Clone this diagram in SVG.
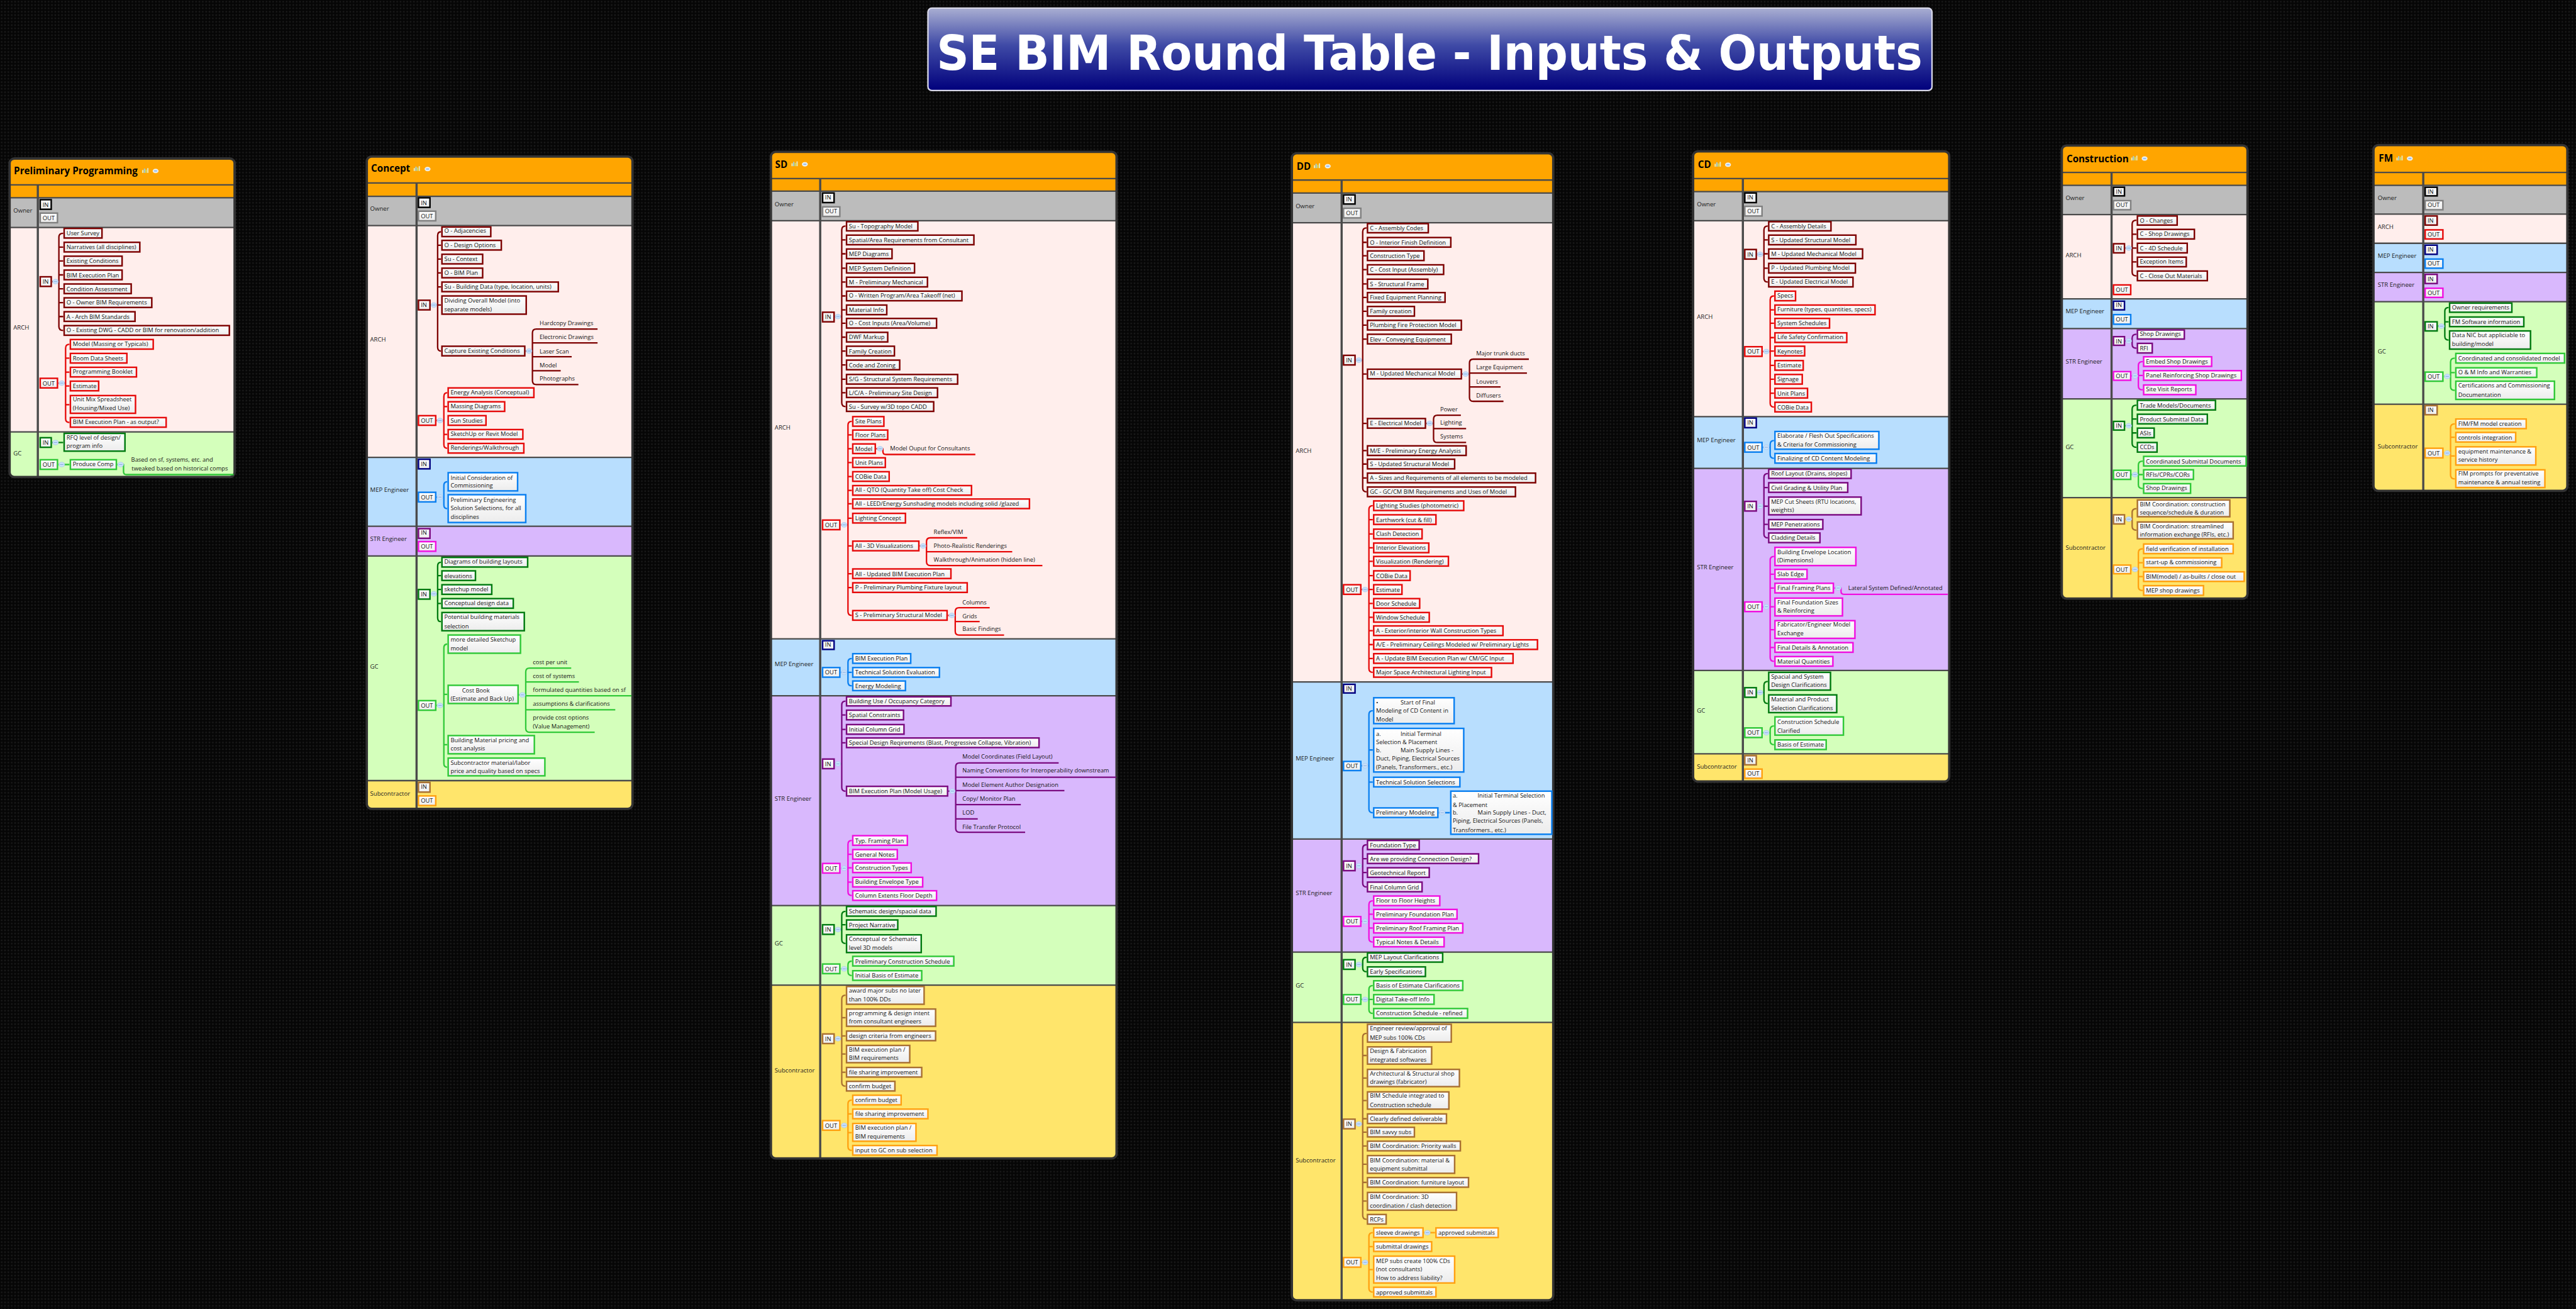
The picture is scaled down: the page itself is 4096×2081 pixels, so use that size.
<svg xmlns="http://www.w3.org/2000/svg" width="4096" height="2081" viewBox="0 0 4096 2081">
<style>
text{font-family:"Open Sans","Noto Sans",sans-serif;font-size:12.3px;fill:#141414;stroke:none;dominant-baseline:central}
text.h{font-size:20px;font-weight:700;fill:#000;dominant-baseline:auto}
text.l{font-size:12.6px;fill:#222}
#nodes rect{fill:url(#nf);stroke-width:3.2}
#connectors path{fill:none;stroke-width:3;stroke-linejoin:round}
.oi{stroke:#000}.oo{stroke:#808080}
.ai{stroke:#7d0000}.ao{stroke:#e60a0a}
.mi{stroke:#000080}.mo{stroke:#0a7ff0}
.si{stroke:#7a0a80}.so{stroke:#f010e0}
.gi{stroke:#007a10}.go{stroke:#30c838}
.ci{stroke:#a87032}.co{stroke:#ffa010}
.r0{fill:#ffa500}.r1{fill:#bcbcbc}.r2{fill:#ffeeec}.r3{fill:#b8defe}.r4{fill:#d9b8fd}.r5{fill:#d4ffbb}.r6{fill:#ffe56b}
.dv{stroke:#4a4a4a;stroke-width:3;fill:none}
.sp{stroke:#4a4a4a;stroke-width:4.5;fill:none}
.ol{fill:none;stroke:#333;stroke-width:5}
</style>
<defs>
<linearGradient id="nf" x1="0" y1="0" x2="0" y2="1"><stop offset="0" stop-color="#fff"/><stop offset="1" stop-color="#ececec"/></linearGradient>
<linearGradient id="tf" x1="0" y1="0" x2="0" y2="1"><stop offset="0" stop-color="#a9aed2"/><stop offset="0.45" stop-color="#3f4aa6"/><stop offset="1" stop-color="#00007c"/></linearGradient>
<pattern id="dots" width="7" height="7" patternUnits="userSpaceOnUse"><rect width="7" height="7" fill="#060606"/><rect x="2" y="2" width="3" height="3" fill="#1c1c1c"/></pattern>
<g id="b"><ellipse rx="6" ry="5" fill="#c9e0fa" stroke="#a9c9ee" stroke-width="1"/><path d="M-3.5 0H3.5" stroke="#6f9fd8" stroke-width="1"/></g>
<g id="hb"><ellipse rx="5.5" ry="4" fill="#d8eafc" stroke="#fff" stroke-width="1"/><path d="M-3 0H3" stroke="#5f8fd0" stroke-width="1.2"/></g>
<g id="ic"><rect x="0" y="-2" width="2.5" height="6" fill="#e8f0c0"/><rect x="3.5" y="-5" width="2.5" height="9" fill="#9ad0e8"/><rect x="7" y="-3" width="2.5" height="7" fill="#c8e070"/><rect x="10.5" y="-6" width="2.5" height="10" fill="#e8e8c0"/></g>
<clipPath id="k1"><rect x="20" y="331" width="470" height="665" rx="10"/></clipPath>
<clipPath id="k2"><rect x="766" y="327" width="555" height="1362" rx="10"/></clipPath>
<clipPath id="k3"><rect x="1610" y="317" width="722" height="2102" rx="10"/></clipPath>
<clipPath id="k4"><rect x="2698" y="320" width="546" height="2395" rx="10"/></clipPath>
<clipPath id="k5"><rect x="3536" y="316" width="535" height="1316" rx="10"/></clipPath>
<clipPath id="k6"><rect x="4306" y="304" width="388" height="946" rx="10"/></clipPath>
<clipPath id="k7"><rect x="4957" y="303" width="405" height="722" rx="10"/></clipPath>
</defs>
<g transform="scale(0.76134)">
<rect width="5380" height="2734" fill="url(#dots)"/>
<g id="title"><rect x="1938" y="17" width="2097" height="172" rx="8" fill="url(#tf)" stroke="#d8d8e8" stroke-width="3"/><text x="1956" y="146" textLength="2059" lengthAdjust="spacingAndGlyphs" style="font-family:'DejaVu Sans',sans-serif;font-size:100px;font-weight:700;fill:#fff;dominant-baseline:auto">SE BIM Round Table - Inputs &amp; Outputs</text></g>

<g id="panels">
<g id="panel-prelim"><g clip-path="url(#k1)"><rect class="r0" x="20" y="331" width="470" height="82"/><rect class="r1" x="20" y="413" width="470" height="62"/><rect class="r2" x="20" y="475" width="470" height="427"/><rect class="r5" x="20" y="902" width="470" height="94"/><path class="dv" d="M20 386H490M20 413H490M20 475H490M20 902H490"/><path class="sp" d="M79 386V996"/></g><rect class="ol" x="20" y="331" width="470" height="665" rx="10"/>
<text class="h" x="29" y="364">Preliminary Programming</text><use href="#ic" x="297" y="357"/><use href="#hb" x="325" y="357"/>
<text class="l" x="28" y="440">Owner</text><text class="l" x="28" y="684">ARCH</text><text class="l" x="28" y="946">GC</text></g>

<g id="panel-concept"><g clip-path="url(#k2)"><rect class="r0" x="766" y="327" width="555" height="83"/><rect class="r1" x="766" y="410" width="555" height="61"/><rect class="r2" x="766" y="471" width="555" height="484"/><rect class="r3" x="766" y="955" width="555" height="144"/><rect class="r4" x="766" y="1099" width="555" height="62"/><rect class="r5" x="766" y="1161" width="555" height="469"/><rect class="r6" x="766" y="1630" width="555" height="59"/><path class="dv" d="M766 382H1321M766 410H1321M766 471H1321M766 955H1321M766 1099H1321M766 1161H1321M766 1630H1321"/><path class="sp" d="M870 382V1689"/></g><rect class="ol" x="766" y="327" width="555" height="1362" rx="10"/>
<text class="h" x="775" y="358">Concept</text><use href="#ic" x="864" y="353"/><use href="#hb" x="893" y="353"/>
<text class="l" x="773" y="436">Owner</text><text class="l" x="773" y="709">ARCH</text><text class="l" x="773" y="1022">MEP Engineer</text><text class="l" x="773" y="1125">STR Engineer</text><text class="l" x="773" y="1392">GC</text><text class="l" x="773" y="1657">Subcontractor</text></g>

<g id="panel-sd"><g clip-path="url(#k3)"><rect class="r0" x="1610" y="317" width="722" height="82"/><rect class="r1" x="1610" y="399" width="722" height="62"/><rect class="r2" x="1610" y="461" width="722" height="873"/><rect class="r3" x="1610" y="1334" width="722" height="119"/><rect class="r4" x="1610" y="1453" width="722" height="438"/><rect class="r5" x="1610" y="1891" width="722" height="166"/><rect class="r6" x="1610" y="2057" width="722" height="362"/><path class="dv" d="M1610 373H2332M1610 399H2332M1610 461H2332M1610 1334H2332M1610 1453H2332M1610 1891H2332M1610 2057H2332"/><path class="sp" d="M1713 373V2419"/></g><rect class="ol" x="1610" y="317" width="722" height="2102" rx="10"/>
<text class="h" x="1619" y="351">SD</text><use href="#ic" x="1653" y="343"/><use href="#hb" x="1681" y="343"/>
<text class="l" x="1618" y="426">Owner</text><text class="l" x="1618" y="893">ARCH</text><text class="l" x="1618" y="1387">MEP Engineer</text><text class="l" x="1618" y="1667">STR Engineer</text><text class="l" x="1618" y="1970">GC</text><text class="l" x="1618" y="2235">Subcontractor</text></g>

<g id="panel-dd"><g clip-path="url(#k4)"><rect class="r0" x="2698" y="320" width="546" height="83"/><rect class="r1" x="2698" y="403" width="546" height="62"/><rect class="r2" x="2698" y="465" width="546" height="959"/><rect class="r3" x="2698" y="1424" width="546" height="328"/><rect class="r4" x="2698" y="1752" width="546" height="236"/><rect class="r5" x="2698" y="1988" width="546" height="147"/><rect class="r6" x="2698" y="2135" width="546" height="580"/><path class="dv" d="M2698 376H3244M2698 403H3244M2698 465H3244M2698 1424H3244M2698 1752H3244M2698 1988H3244M2698 2135H3244"/><path class="sp" d="M2802 376V2715"/></g><rect class="ol" x="2698" y="320" width="546" height="2395" rx="10"/>
<text class="h" x="2708" y="355">DD</text><use href="#ic" x="2744" y="347"/><use href="#hb" x="2773" y="347"/>
<text class="l" x="2706" y="430">Owner</text><text class="l" x="2706" y="941">ARCH</text><text class="l" x="2706" y="1584">MEP Engineer</text><text class="l" x="2706" y="1865">STR Engineer</text><text class="l" x="2706" y="2058">GC</text><text class="l" x="2706" y="2423">Subcontractor</text></g>

<g id="panel-cd"><g clip-path="url(#k5)"><rect class="r0" x="3536" y="316" width="535" height="84"/><rect class="r1" x="3536" y="400" width="535" height="61"/><rect class="r2" x="3536" y="461" width="535" height="409"/><rect class="r3" x="3536" y="870" width="535" height="108"/><rect class="r4" x="3536" y="978" width="535" height="422"/><rect class="r5" x="3536" y="1400" width="535" height="174"/><rect class="r6" x="3536" y="1574" width="535" height="58"/><path class="dv" d="M3536 373H4071M3536 400H4071M3536 461H4071M3536 870H4071M3536 978H4071M3536 1400H4071M3536 1574H4071"/><path class="sp" d="M3640 373V1632"/></g><rect class="ol" x="3536" y="316" width="535" height="1316" rx="10"/>
<text class="h" x="3546" y="351">CD</text><use href="#ic" x="3581" y="344"/><use href="#hb" x="3609" y="344"/>
<text class="l" x="3544" y="426">Owner</text><text class="l" x="3544" y="661">ARCH</text><text class="l" x="3544" y="919">MEP Engineer</text><text class="l" x="3544" y="1184">STR Engineer</text><text class="l" x="3544" y="1483">GC</text><text class="l" x="3544" y="1600">Subcontractor</text></g>

<g id="panel-construction"><g clip-path="url(#k6)"><rect class="r0" x="4306" y="304" width="388" height="83"/><rect class="r1" x="4306" y="387" width="388" height="61"/><rect class="r2" x="4306" y="448" width="388" height="176"/><rect class="r3" x="4306" y="624" width="388" height="62"/><rect class="r4" x="4306" y="686" width="388" height="147"/><rect class="r5" x="4306" y="833" width="388" height="206"/><rect class="r6" x="4306" y="1039" width="388" height="211"/><path class="dv" d="M4306 360H4694M4306 387H4694M4306 448H4694M4306 624H4694M4306 686H4694M4306 833H4694M4306 1039H4694"/><path class="sp" d="M4410 360V1250"/></g><rect class="ol" x="4306" y="304" width="388" height="946" rx="10"/>
<text class="h" x="4316" y="339">Construction</text><use href="#ic" x="4451" y="331"/><use href="#hb" x="4479" y="331"/>
<text class="l" x="4314" y="413">Owner</text><text class="l" x="4314" y="532">ARCH</text><text class="l" x="4314" y="650">MEP Engineer</text><text class="l" x="4314" y="755">STR Engineer</text><text class="l" x="4314" y="933">GC</text><text class="l" x="4314" y="1143">Subcontractor</text></g>

<g id="panel-fm"><g clip-path="url(#k7)"><rect class="r0" x="4957" y="303" width="405" height="84"/><rect class="r1" x="4957" y="387" width="405" height="60"/><rect class="r2" x="4957" y="447" width="405" height="61"/><rect class="r3" x="4957" y="508" width="405" height="61"/><rect class="r4" x="4957" y="569" width="405" height="61"/><rect class="r5" x="4957" y="630" width="405" height="214"/><rect class="r6" x="4957" y="844" width="405" height="181"/><path class="dv" d="M4957 360H5362M4957 387H5362M4957 447H5362M4957 508H5362M4957 569H5362M4957 630H5362M4957 844H5362"/><path class="sp" d="M5061 360V1025"/></g><rect class="ol" x="4957" y="303" width="405" height="722" rx="10"/>
<text class="h" x="4968" y="338">FM</text><use href="#ic" x="5005" y="331"/><use href="#hb" x="5033" y="331"/>
<text class="l" x="4966" y="413">Owner</text><text class="l" x="4966" y="474">ARCH</text><text class="l" x="4966" y="534">MEP Engineer</text><text class="l" x="4966" y="595">STR Engineer</text><text class="l" x="4966" y="733">GC</text><text class="l" x="4966" y="932">Subcontractor</text></g>
</g>

<g id="connectors">
<path class="ai" d="M109 588H123M132 487Q123 487 123 495V682Q123 690 132 690M123 516H132M123 545H132M123 574H132M123 603H132M123 632H132M123 661H132"/>
<path class="ao" d="M122 800H137M145 719Q137 719 137 727V874Q137 882 145 882M137 748H145M137 777H145M137 806H145M137 845H145"/>
<path class="gi" d="M109 924H132"/>
<path class="go" d="M122 970H145M245 970H258V985Q258 991 264 991H488"/>
<path class="ai" d="M900 637H914M921 484Q914 484 914 492V725Q914 733 921 733M914 512H921M914 541H921M914 570H921M914 599H921M914 637H921"/>
<path class="ai" d="M1098 733H1112M1248 687H1120Q1112 687 1112 695V795Q1112 803 1120 803H1208M1112 716H1248M1112 745H1194M1112 774H1171"/>
<path class="ao" d="M912 878H927M934 820Q927 820 927 828V928Q927 936 934 936M927 849H934M927 907H934"/>
<path class="mo" d="M912 1038H927M934 1006Q927 1006 927 1014V1054Q927 1062 934 1062"/>
<path class="gi" d="M900 1240H914M921 1174Q914 1174 914 1182V1290Q914 1298 921 1298M914 1202H921M914 1231H921M914 1260H921"/>
<path class="go" d="M912 1473H927M934 1345Q927 1345 927 1353V1594Q927 1602 934 1602M927 1450H934M927 1555H934"/>
<path class="go" d="M1084 1451H1098M1193 1395H1106Q1098 1395 1098 1403V1521Q1098 1529 1106 1529H1242M1098 1424H1209M1098 1453H1319M1098 1482H1285"/>
<path class="ai" d="M1744 661H1758M1766 472Q1758 472 1758 480V841Q1758 849 1766 849M1758 501H1766M1758 530H1766M1758 560H1766M1758 589H1766M1758 618H1766M1758 647H1766M1758 675H1766M1758 704H1766M1758 733H1766M1758 762H1766M1758 792H1766M1758 820H1766"/>
<path class="ao" d="M1756 1096H1771M1779 880Q1771 880 1771 888V1277Q1771 1285 1779 1285M1771 908H1779M1771 937H1779M1771 966H1779M1771 995H1779M1771 1024H1779M1771 1052H1779M1771 1082H1779M1771 1140H1779M1771 1198H1779M1771 1227H1779"/>
<path class="ao" d="M1830 937H1844V943Q1844 949 1850 949H2037"/>
<path class="ao" d="M1921 1140H1935M2020 1123H1943Q1935 1123 1935 1131V1173Q1935 1181 1943 1181H2177M1935 1152H2114"/>
<path class="ao" d="M1980 1285H1995M2067 1269H2003Q1995 1269 1995 1277V1318Q1995 1326 2003 1326H2097M1995 1298H2046"/>
<path class="mo" d="M1756 1404H1771M1779 1375Q1771 1375 1771 1383V1424Q1771 1432 1779 1432M1771 1404H1779"/>
<path class="si" d="M1744 1595H1758M1766 1464Q1758 1464 1758 1472V1644Q1758 1652 1766 1652M1758 1493H1766M1758 1523H1766M1758 1551H1766"/>
<path class="si" d="M1981 1652H1996M2211 1593H2004Q1996 1593 1996 1601V1730Q1996 1738 2004 1738H2141M1996 1623H2331M1996 1651H2223M1996 1680H2132M1996 1710H2042"/>
<path class="so" d="M1756 1813H1771M1779 1755Q1771 1755 1771 1763V1862Q1771 1870 1779 1870M1771 1784H1779M1771 1812H1779M1771 1842H1779"/>
<path class="gi" d="M1744 1941H1758M1766 1903Q1758 1903 1758 1911V1962Q1758 1970 1766 1970M1758 1931H1766"/>
<path class="go" d="M1756 2023H1771M1779 2007Q1771 2007 1771 2015V2029Q1771 2037 1779 2037"/>
<path class="ci" d="M1744 2169H1758M1766 2078Q1758 2078 1758 2086V2260Q1758 2268 1766 2268M1758 2125H1766M1758 2163H1766M1758 2201H1766M1758 2239H1766"/>
<path class="co" d="M1756 2350H1771M1779 2297Q1771 2297 1771 2305V2394Q1771 2402 1779 2402M1771 2326H1779M1771 2365H1779"/>
<path class="ai" d="M2832 752H2846M2854 476Q2846 476 2846 484V1019Q2846 1027 2854 1027M2846 506H2854M2846 534H2854M2846 563H2854M2846 593H2854M2846 621H2854M2846 650H2854M2846 679H2854M2846 708H2854M2846 781H2854M2846 884H2854M2846 941H2854M2846 969H2854M2846 998H2854"/>
<path class="ai" d="M3054 781H3069M3193 750H3077Q3069 750 3069 758V830Q3069 838 3077 838H3140M3069 779H3189M3069 808H3134"/>
<path class="ai" d="M2979 884H2994M3051 867H3002Q2994 867 2994 875V916Q2994 924 3002 924H3062M2994 895H3062"/>
<path class="ao" d="M2844 1231H2859M2867 1056Q2859 1056 2859 1064V1396Q2859 1404 2867 1404M2859 1085H2867M2859 1115H2867M2859 1144H2867M2859 1172H2867M2859 1202H2867M2859 1231H2867M2859 1260H2867M2859 1289H2867M2859 1317H2867M2859 1346H2867M2859 1375H2867"/>
<path class="mo" d="M2844 1599H2859M2867 1484Q2859 1484 2859 1492V1689Q2859 1697 2867 1697M2859 1566H2867M2859 1633H2867M3005 1697H3028"/>
<path class="si" d="M2832 1808H2846M2854 1764Q2846 1764 2846 1772V1844Q2846 1852 2854 1852M2846 1793H2854M2846 1822H2854"/>
<path class="so" d="M2844 1924H2859M2867 1881Q2859 1881 2859 1889V1959Q2859 1967 2867 1967M2859 1909H2867M2859 1938H2867"/>
<path class="gi" d="M2832 2014H2846M2854 1999Q2846 1999 2846 2007V2021Q2846 2029 2854 2029"/>
<path class="go" d="M2844 2087H2859M2867 2058Q2859 2058 2859 2066V2108Q2859 2116 2867 2116M2859 2087H2867"/>
<path class="ci" d="M2832 2347H2846M2854 2158Q2846 2158 2846 2166V2538Q2846 2546 2854 2546M2846 2204H2854M2846 2251H2854M2846 2298H2854M2846 2336H2854M2846 2364H2854M2846 2393H2854M2846 2431H2854M2846 2469H2854M2846 2508H2854"/>
<path class="co" d="M2844 2636H2859M2867 2574Q2859 2574 2859 2582V2690Q2859 2698 2867 2698M2859 2603H2867M2859 2651H2867M2974 2574H2997"/>
<path class="ai" d="M3670 531H3684M3692 472Q3684 472 3684 480V581Q3684 589 3692 589M3684 501H3692M3684 530H3692M3684 560H3692"/>
<path class="ao" d="M3682 734H3697M3705 618Q3697 618 3697 626V842Q3697 850 3705 850M3697 647H3705M3697 675H3705M3697 705H3705M3697 733H3705M3697 763H3705M3697 792H3705M3697 821H3705"/>
<path class="mo" d="M3682 934H3697M3705 920Q3697 920 3697 928V949Q3697 957 3705 957"/>
<path class="si" d="M3670 1057H3684M3692 989Q3684 989 3684 997V1115Q3684 1123 3692 1123M3684 1018H3692M3684 1057H3692M3684 1095H3692"/>
<path class="so" d="M3682 1267H3697M3705 1162Q3697 1162 3697 1170V1373Q3697 1381 3705 1381M3697 1199H3705M3697 1228H3705M3697 1267H3705M3697 1315H3705M3697 1352H3705"/>
<path class="so" d="M3831 1228H3845V1235Q3845 1241 3851 1241H4068"/>
<path class="gi" d="M3670 1446H3684M3692 1423Q3684 1423 3684 1431V1461Q3684 1469 3692 1469"/>
<path class="go" d="M3682 1530H3697M3705 1516Q3697 1516 3697 1524V1547Q3697 1555 3705 1555"/>
<path class="ai" d="M4439 518H4453M4462 460Q4453 460 4453 468V568Q4453 576 4462 576M4453 489H4462M4453 518H4462M4453 547H4462"/>
<path class="si" d="M4439 712H4453M4462 698Q4453 698 4453 706V719Q4453 727 4462 727"/>
<path class="so" d="M4452 785H4466M4475 755Q4466 755 4466 763V806Q4466 814 4475 814M4466 784H4475"/>
<path class="gi" d="M4439 889H4453M4462 846Q4453 846 4453 854V926Q4453 934 4462 934M4453 875H4462M4453 904H4462"/>
<path class="go" d="M4452 991H4466M4475 963Q4466 963 4466 971V1012Q4466 1020 4475 1020M4466 991H4475"/>
<path class="ci" d="M4439 1084H4453M4462 1062Q4453 1062 4453 1070V1099Q4453 1107 4462 1107"/>
<path class="co" d="M4452 1189H4466M4475 1146Q4466 1146 4466 1154V1225Q4466 1233 4475 1233M4466 1175H4475M4466 1204H4475"/>
<path class="gi" d="M5092 681H5106M5114 642Q5106 642 5106 650V702Q5106 710 5114 710M5106 672H5114"/>
<path class="go" d="M5104 786H5118M5127 748Q5118 748 5118 756V807Q5118 815 5127 815M5118 778H5127"/>
<path class="co" d="M5104 946H5118M5127 885Q5118 885 5118 893V992Q5118 1000 5127 1000M5118 913H5127M5118 952H5127"/>
<g id="collapse-buttons">
<use href="#b" x="116" y="588"/><use href="#b" x="129" y="800"/><use href="#b" x="116" y="924"/><use href="#b" x="129" y="970"/><use href="#b" x="252" y="970"/>
<use href="#b" x="906" y="637"/><use href="#b" x="1105" y="733"/><use href="#b" x="919" y="878"/><use href="#b" x="919" y="1038"/><use href="#b" x="906" y="1240"/><use href="#b" x="919" y="1473"/><use href="#b" x="1091" y="1451"/>
<use href="#b" x="1750" y="661"/><use href="#b" x="1763" y="1096"/><use href="#b" x="1838" y="937"/><use href="#b" x="1928" y="1140"/><use href="#b" x="1988" y="1285"/><use href="#b" x="1763" y="1404"/><use href="#b" x="1750" y="1595"/><use href="#b" x="1989" y="1652"/><use href="#b" x="1763" y="1813"/><use href="#b" x="1750" y="1941"/><use href="#b" x="1763" y="2023"/><use href="#b" x="1750" y="2169"/><use href="#b" x="1763" y="2350"/>
<use href="#b" x="2838" y="752"/><use href="#b" x="3061" y="781"/><use href="#b" x="2986" y="884"/><use href="#b" x="2851" y="1231"/><use href="#b" x="2851" y="1599"/><use href="#b" x="3012" y="1697"/><use href="#b" x="2838" y="1808"/><use href="#b" x="2851" y="1924"/><use href="#b" x="2838" y="2014"/><use href="#b" x="2851" y="2087"/><use href="#b" x="2838" y="2347"/><use href="#b" x="2851" y="2636"/><use href="#b" x="2981" y="2574"/>
<use href="#b" x="3676" y="531"/><use href="#b" x="3689" y="734"/><use href="#b" x="3689" y="934"/><use href="#b" x="3676" y="1057"/><use href="#b" x="3689" y="1267"/><use href="#b" x="3839" y="1228"/><use href="#b" x="3676" y="1446"/><use href="#b" x="3689" y="1530"/>
<use href="#b" x="4446" y="518"/><use href="#b" x="4446" y="712"/><use href="#b" x="4459" y="785"/><use href="#b" x="4446" y="889"/><use href="#b" x="4459" y="991"/><use href="#b" x="4446" y="1084"/><use href="#b" x="4459" y="1189"/>
<use href="#b" x="5099" y="681"/><use href="#b" x="5111" y="786"/><use href="#b" x="5111" y="946"/>
</g>
</g>

<g id="nodes">
<g id="p1-oi" class="oi"><rect x="84" y="417" width="23" height="20"/><text x="89" y="427">IN</text></g>
<g id="p1-oo" class="oo"><rect x="84" y="445" width="36" height="20"/><text x="89" y="455">OUT</text></g>
<g id="p1-ai" class="ai"><rect x="84" y="578" width="23" height="20"/><text x="89" y="588">IN</text></g>
<g id="p1-ai1" class="ai"><rect x="134" y="477" width="79" height="20"/><text x="139" y="486">User Survey</text></g>
<g id="p1-ai2" class="ai"><rect x="134" y="506" width="158" height="20"/><text x="139" y="516">Narratives (all disciplines)</text></g>
<g id="p1-ai3" class="ai"><rect x="134" y="535" width="121" height="20"/><text x="139" y="545">Existing Conditions</text></g>
<g id="p1-ai4" class="ai"><rect x="134" y="564" width="121" height="20"/><text x="139" y="574">BIM Execution Plan</text></g>
<g id="p1-ai5" class="ai"><rect x="134" y="593" width="140" height="20"/><text x="139" y="603">Condition Assessment</text></g>
<g id="p1-ai6" class="ai"><rect x="134" y="622" width="183" height="20"/><text x="139" y="631">O - Owner BIM Requirements</text></g>
<g id="p1-ai7" class="ai"><rect x="134" y="651" width="148" height="20"/><text x="139" y="661">A - Arch BIM Standards</text></g>
<g id="p1-ai8" class="ai"><rect x="134" y="680" width="345" height="20"/><text x="139" y="689">O - Existing DWG - CADD or BIM for renovation/addition</text></g>
<g id="p1-ao" class="ao"><rect x="84" y="790" width="36" height="20"/><text x="89" y="800">OUT</text></g>
<g id="p1-ao1" class="ao"><rect x="147" y="709" width="173" height="20"/><text x="152" y="718">Model (Massing or Typicals)</text></g>
<g id="p1-ao2" class="ao"><rect x="147" y="738" width="118" height="20"/><text x="152" y="748">Room Data Sheets</text></g>
<g id="p1-ao3" class="ao"><rect x="147" y="767" width="138" height="20"/><text x="152" y="776">Programming Booklet</text></g>
<g id="p1-ao4" class="ao"><rect x="147" y="796" width="59" height="20"/><text x="152" y="806">Estimate</text></g>
<g id="p1-ao5" class="ao"><rect x="147" y="826" width="136" height="37"/><text x="152" y="834">Unit Mix Spreadsheet</text><text x="152" y="852">(Housing/Mixed Use)</text></g>
<g id="p1-ao6" class="ao"><rect x="147" y="872" width="200" height="20"/><text x="152" y="881">BIM Execution Plan - as output?</text></g>
<g id="p1-gi" class="gi"><rect x="84" y="914" width="23" height="20"/><text x="89" y="924">IN</text></g>
<g id="p1-gi1" class="gi"><rect x="134" y="905" width="127" height="37"/><text x="139" y="913">RFQ level of design/</text><text x="139" y="931">program info</text></g>
<g id="p1-go" class="go"><rect x="84" y="960" width="36" height="20"/><text x="89" y="970">OUT</text></g>
<g id="p1-go1" class="go"><rect x="147" y="960" width="96" height="20"/><text x="152" y="969">Produce Comp</text></g>
<g id="p1-go2"><text x="274" y="960">Based on sf, systems, etc. and</text><text x="275" y="978">tweaked based on historical comps</text></g>

<g id="p2-oi" class="oi"><rect x="874" y="413" width="24" height="20"/><text x="879" y="423">IN</text></g>
<g id="p2-oo" class="oo"><rect x="874" y="441" width="36" height="20"/><text x="879" y="451">OUT</text></g>
<g id="p2-ai" class="ai"><rect x="874" y="627" width="24" height="20"/><text x="879" y="637">IN</text></g>
<g id="p2-ai1" class="ai"><rect x="923" y="474" width="102" height="20"/><text x="928" y="482">O - Adjacencies</text></g>
<g id="p2-ai2" class="ai"><rect x="923" y="502" width="124" height="20"/><text x="928" y="511">O - Design Options</text></g>
<g id="p2-ai3" class="ai"><rect x="923" y="531" width="85" height="20"/><text x="928" y="541">Su - Context</text></g>
<g id="p2-ai4" class="ai"><rect x="923" y="560" width="85" height="20"/><text x="928" y="570">O - BIM Plan</text></g>
<g id="p2-ai5" class="ai"><rect x="923" y="589" width="243" height="20"/><text x="928" y="598">Su - Building Data (type, location, units)</text></g>
<g id="p2-ai6" class="ai"><rect x="923" y="618" width="176" height="38"/><text x="928" y="627">Dividing Overall Model (into</text><text x="928" y="645">separate models)</text></g>
<g id="p2-ai7" class="ai"><rect x="923" y="723" width="173" height="20"/><text x="928" y="732">Capture Existing Conditions</text></g>
<g id="p2-ai7a"><text x="1127" y="674">Hardcopy Drawings</text></g>
<g id="p2-ai7b"><text x="1127" y="703">Electronic Drawings</text></g>
<g id="p2-ai7c"><text x="1127" y="733">Laser Scan</text></g>
<g id="p2-ai7d"><text x="1127" y="762">Model</text></g>
<g id="p2-ai7e"><text x="1127" y="790">Photographs</text></g>
<g id="p2-ao" class="ao"><rect x="874" y="868" width="36" height="20"/><text x="879" y="878">OUT</text></g>
<g id="p2-ao1" class="ao"><rect x="936" y="810" width="179" height="20"/><text x="941" y="819">Energy Analysis (Conceptual)</text></g>
<g id="p2-ao2" class="ao"><rect x="936" y="839" width="118" height="20"/><text x="941" y="848">Massing Diagrams</text></g>
<g id="p2-ao3" class="ao"><rect x="936" y="868" width="79" height="20"/><text x="941" y="878">Sun Studies</text></g>
<g id="p2-ao4" class="ao"><rect x="936" y="897" width="156" height="20"/><text x="941" y="906">SketchUp or Revit Model</text></g>
<g id="p2-ao5" class="ao"><rect x="936" y="926" width="158" height="20"/><text x="941" y="935">Renderings/Walkthrough</text></g>
<g id="p2-mi" class="mi"><rect x="874" y="959" width="24" height="20"/><text x="879" y="969">IN</text></g>
<g id="p2-mo" class="mo"><rect x="874" y="1028" width="36" height="20"/><text x="879" y="1038">OUT</text></g>
<g id="p2-mo1" class="mo"><rect x="936" y="987" width="145" height="38"/><text x="941" y="997">Initial Consideration of</text><text x="941" y="1014">Commissioning</text></g>
<g id="p2-mo2" class="mo"><rect x="936" y="1033" width="162" height="58"/><text x="941" y="1043">Preliminary Engineering</text><text x="941" y="1061">Solution Selections, for all</text><text x="941" y="1079">disciplines</text></g>
<g id="p2-si" class="si"><rect x="874" y="1104" width="24" height="20"/><text x="879" y="1112">IN</text></g>
<g id="p2-so" class="so"><rect x="874" y="1131" width="36" height="20"/><text x="879" y="1141">OUT</text></g>
<g id="p2-gi" class="gi"><rect x="874" y="1231" width="24" height="20"/><text x="879" y="1240">IN</text></g>
<g id="p2-gi1" class="gi"><rect x="923" y="1164" width="179" height="20"/><text x="928" y="1172">Diagrams of building layouts</text></g>
<g id="p2-gi2" class="gi"><rect x="923" y="1192" width="70" height="20"/><text x="928" y="1202">elevations</text></g>
<g id="p2-gi3" class="gi"><rect x="923" y="1221" width="104" height="20"/><text x="928" y="1230">sketchup model</text></g>
<g id="p2-gi4" class="gi"><rect x="923" y="1250" width="149" height="20"/><text x="928" y="1259">Conceptual design data</text></g>
<g id="p2-gi5" class="gi"><rect x="923" y="1279" width="172" height="38"/><text x="928" y="1288">Potential building materials</text><text x="928" y="1307">selection</text></g>
<g id="p2-go" class="go"><rect x="874" y="1463" width="36" height="20"/><text x="879" y="1473">OUT</text></g>
<g id="p2-go1" class="go"><rect x="936" y="1326" width="151" height="38"/><text x="941" y="1335">more detailed Sketchup</text><text x="941" y="1354">model</text></g>
<g id="p2-go2" class="go"><rect x="936" y="1431" width="146" height="38"/><text x="965" y="1441">Cost Book</text><text x="941" y="1458">(Estimate and Back Up)</text></g>
<g id="p2-go2a"><text x="1113" y="1382">cost per unit</text></g>
<g id="p2-go2b"><text x="1113" y="1411">cost of systems</text></g>
<g id="p2-go2c"><text x="1113" y="1440">formulated quantities based on sf</text></g>
<g id="p2-go2d"><text x="1113" y="1469">assumptions &amp; clarifications</text></g>
<g id="p2-go2e"><text x="1113" y="1498">provide cost options</text><text x="1113" y="1516">(Value Management)</text></g>
<g id="p2-go3" class="go"><rect x="936" y="1536" width="180" height="38"/><text x="941" y="1545">Building Material pricing and</text><text x="941" y="1563">cost analysis</text></g>
<g id="p2-go4" class="go"><rect x="936" y="1583" width="202" height="37"/><text x="941" y="1593">Subcontractor material/labor</text><text x="941" y="1610">price and quality based on specs</text></g>
<g id="p2-ci" class="ci"><rect x="874" y="1634" width="24" height="20"/><text x="879" y="1643">IN</text></g>
<g id="p2-co" class="co"><rect x="874" y="1662" width="36" height="20"/><text x="879" y="1672">OUT</text></g>

<g id="p3-oi" class="oi"><rect x="1718" y="403" width="24" height="20"/><text x="1723" y="412">IN</text></g>
<g id="p3-oo" class="oo"><rect x="1718" y="432" width="36" height="20"/><text x="1723" y="441">OUT</text></g>
<g id="p3-ai" class="ai"><rect x="1718" y="652" width="24" height="20"/><text x="1723" y="661">IN</text></g>
<g id="p3-ai1" class="ai"><rect x="1768" y="463" width="149" height="19"/><text x="1773" y="472">Su - Topography Model</text></g>
<g id="p3-ai2" class="ai"><rect x="1768" y="491" width="266" height="20"/><text x="1773" y="501">Spatial/Area Requirements from Consultant</text></g>
<g id="p3-ai3" class="ai"><rect x="1768" y="520" width="95" height="20"/><text x="1773" y="530">MEP Diagrams</text></g>
<g id="p3-ai4" class="ai"><rect x="1768" y="550" width="142" height="20"/><text x="1773" y="560">MEP System Definition</text></g>
<g id="p3-ai5" class="ai"><rect x="1768" y="579" width="169" height="20"/><text x="1773" y="589">M - Preliminary Mechanical</text></g>
<g id="p3-ai6" class="ai"><rect x="1768" y="608" width="241" height="20"/><text x="1773" y="617">O - Written Program/Area Takeoff (net)</text></g>
<g id="p3-ai7" class="ai"><rect x="1768" y="637" width="84" height="20"/><text x="1773" y="647">Material Info</text></g>
<g id="p3-ai8" class="ai"><rect x="1768" y="665" width="188" height="20"/><text x="1773" y="675">O - Cost Inputs (Area/Volume)</text></g>
<g id="p3-ai9" class="ai"><rect x="1768" y="694" width="86" height="20"/><text x="1773" y="704">DWF Markup</text></g>
<g id="p3-ai10" class="ai"><rect x="1768" y="723" width="100" height="20"/><text x="1773" y="733">Family Creation</text></g>
<g id="p3-ai11" class="ai"><rect x="1768" y="752" width="111" height="20"/><text x="1773" y="762">Code and Zoning</text></g>
<g id="p3-ai12" class="ai"><rect x="1768" y="782" width="232" height="20"/><text x="1773" y="791">S/G - Structural System Requirements</text></g>
<g id="p3-ai13" class="ai"><rect x="1768" y="810" width="190" height="20"/><text x="1773" y="820">L/C/A - Preliminary Site Design</text></g>
<g id="p3-ai14" class="ai"><rect x="1768" y="839" width="182" height="20"/><text x="1773" y="849">Su - Survey w/3D topo CADD</text></g>
<g id="p3-ao" class="ao"><rect x="1718" y="1086" width="36" height="20"/><text x="1723" y="1096">OUT</text></g>
<g id="p3-ao1" class="ao"><rect x="1781" y="870" width="65" height="20"/><text x="1786" y="880">Site Plans</text></g>
<g id="p3-ao2" class="ao"><rect x="1781" y="898" width="73" height="20"/><text x="1786" y="908">Floor Plans</text></g>
<g id="p3-ao3" class="ao"><rect x="1781" y="927" width="47" height="20"/><text x="1786" y="937">Model</text></g>
<g id="p3-ao3a"><text x="1859" y="936">Model Ouput for Consultants</text></g>
<g id="p3-ao4" class="ao"><rect x="1781" y="956" width="68" height="20"/><text x="1786" y="966">Unit Plans</text></g>
<g id="p3-ao5" class="ao"><rect x="1781" y="985" width="76" height="20"/><text x="1786" y="995">COBie Data</text></g>
<g id="p3-ao6" class="ao"><rect x="1781" y="1014" width="248" height="20"/><text x="1786" y="1023">All - QTO (Quantity Take off) Cost Check</text></g>
<g id="p3-ao7" class="ao"><rect x="1781" y="1042" width="369" height="20"/><text x="1786" y="1052">All - LEED/Energy Sunshading models including solid /glazed</text></g>
<g id="p3-ao8" class="ao"><rect x="1781" y="1072" width="110" height="20"/><text x="1786" y="1081">Lighting Concept</text></g>
<g id="p3-ao9" class="ao"><rect x="1781" y="1130" width="138" height="20"/><text x="1786" y="1140">All - 3D Visualizations</text></g>
<g id="p3-ao9a"><text x="1950" y="1111">Reflex/VIM</text></g>
<g id="p3-ao9b"><text x="1950" y="1139">Photo-Realistic Renderings</text></g>
<g id="p3-ao9c"><text x="1950" y="1168">Walkthrough/Animation (hidden line)</text></g>
<g id="p3-ao10" class="ao"><rect x="1781" y="1188" width="205" height="20"/><text x="1786" y="1198">All - Updated BIM Execution Plan</text></g>
<g id="p3-ao11" class="ao"><rect x="1781" y="1217" width="239" height="20"/><text x="1786" y="1226">P - Preliminary Plumbing Fixture layout</text></g>
<g id="p3-ao12" class="ao"><rect x="1781" y="1275" width="197" height="20"/><text x="1786" y="1284">S - Preliminary Structural Model</text></g>
<g id="p3-ao12a"><text x="2010" y="1257">Columns</text></g>
<g id="p3-ao12b"><text x="2010" y="1286">Grids</text></g>
<g id="p3-ao12c"><text x="2010" y="1313">Basic Findings</text></g>
<g id="p3-mi" class="mi"><rect x="1718" y="1338" width="24" height="18"/><text x="1723" y="1346">IN</text></g>
<g id="p3-mo" class="mo"><rect x="1718" y="1394" width="36" height="20"/><text x="1723" y="1404">OUT</text></g>
<g id="p3-mo1" class="mo"><rect x="1781" y="1365" width="121" height="20"/><text x="1786" y="1375">BIM Execution Plan</text></g>
<g id="p3-mo2" class="mo"><rect x="1781" y="1394" width="181" height="20"/><text x="1786" y="1404">Technical Solution Evaluation</text></g>
<g id="p3-mo3" class="mo"><rect x="1781" y="1422" width="110" height="20"/><text x="1786" y="1432">Energy Modeling</text></g>
<g id="p3-si" class="si"><rect x="1718" y="1585" width="24" height="20"/><text x="1723" y="1595">IN</text></g>
<g id="p3-si1" class="si"><rect x="1768" y="1455" width="218" height="19"/><text x="1773" y="1464">Building Use / Occupancy Category</text></g>
<g id="p3-si2" class="si"><rect x="1768" y="1483" width="119" height="20"/><text x="1773" y="1493">Spatial Constraints</text></g>
<g id="p3-si3" class="si"><rect x="1768" y="1513" width="120" height="20"/><text x="1773" y="1523">Initial Column Grid</text></g>
<g id="p3-si4" class="si"><rect x="1768" y="1541" width="402" height="20"/><text x="1773" y="1551">Special Design Reqirements (Blast, Progressive Collapse, Vibration)</text></g>
<g id="p3-si5" class="si"><rect x="1768" y="1642" width="211" height="20"/><text x="1773" y="1652">BIM Execution Plan (Model Usage)</text></g>
<g id="p3-si5a"><text x="2010" y="1580">Model Coordinates (Field Layout)</text></g>
<g id="p3-si5b"><text x="2010" y="1609">Naming Conventions for Interoperability downstream</text></g>
<g id="p3-si5c"><text x="2010" y="1638">Model Element Author Designation</text></g>
<g id="p3-si5d"><text x="2010" y="1667">Copy/ Monitor Plan</text></g>
<g id="p3-si5e"><text x="2010" y="1697">LOD</text></g>
<g id="p3-si5f"><text x="2010" y="1726">File Transfer Protocol</text></g>
<g id="p3-so" class="so"><rect x="1718" y="1803" width="36" height="20"/><text x="1723" y="1813">OUT</text></g>
<g id="p3-so1" class="so"><rect x="1781" y="1745" width="114" height="20"/><text x="1786" y="1755">Typ. Framing Plan</text></g>
<g id="p3-so2" class="so"><rect x="1781" y="1774" width="93" height="20"/><text x="1786" y="1784">General Notes</text></g>
<g id="p3-so3" class="so"><rect x="1781" y="1802" width="122" height="20"/><text x="1786" y="1812">Construction Types</text></g>
<g id="p3-so4" class="so"><rect x="1781" y="1832" width="146" height="20"/><text x="1786" y="1841">Building Envelope Type</text></g>
<g id="p3-so5" class="so"><rect x="1781" y="1860" width="175" height="20"/><text x="1786" y="1870">Column Extents Floor Depth</text></g>
<g id="p3-gi" class="gi"><rect x="1718" y="1931" width="24" height="20"/><text x="1723" y="1941">IN</text></g>
<g id="p3-gi1" class="gi"><rect x="1768" y="1893" width="187" height="20"/><text x="1773" y="1902">Schematic design/spacial data</text></g>
<g id="p3-gi2" class="gi"><rect x="1768" y="1921" width="107" height="20"/><text x="1773" y="1931">Project Narrative</text></g>
<g id="p3-gi3" class="gi"><rect x="1768" y="1952" width="156" height="37"/><text x="1773" y="1960">Conceptual or Schematic</text><text x="1773" y="1979">level 3D models</text></g>
<g id="p3-go" class="go"><rect x="1718" y="2013" width="36" height="20"/><text x="1723" y="2023">OUT</text></g>
<g id="p3-go1" class="go"><rect x="1781" y="1997" width="211" height="20"/><text x="1786" y="2007">Preliminary Construction Schedule</text></g>
<g id="p3-go2" class="go"><rect x="1781" y="2027" width="144" height="20"/><text x="1786" y="2037">Initial Basis of Estimate</text></g>
<g id="p3-ci" class="ci"><rect x="1718" y="2159" width="24" height="20"/><text x="1723" y="2169">IN</text></g>
<g id="p3-ci1" class="ci"><rect x="1768" y="2060" width="162" height="37"/><text x="1773" y="2068">award major subs no later</text><text x="1773" y="2087">than 100% DDs</text></g>
<g id="p3-ci2" class="ci"><rect x="1768" y="2107" width="186" height="36"/><text x="1773" y="2115">programming &amp; design intent</text><text x="1773" y="2133">from consultant engineers</text></g>
<g id="p3-ci3" class="ci"><rect x="1768" y="2153" width="186" height="20"/><text x="1773" y="2162">design criteria from engineers</text></g>
<g id="p3-ci4" class="ci"><rect x="1768" y="2183" width="132" height="36"/><text x="1773" y="2191">BIM execution plan /</text><text x="1773" y="2209">BIM requirements</text></g>
<g id="p3-ci5" class="ci"><rect x="1768" y="2229" width="157" height="20"/><text x="1773" y="2239">file sharing improvement</text></g>
<g id="p3-ci6" class="ci"><rect x="1768" y="2258" width="101" height="20"/><text x="1773" y="2268">confirm budget</text></g>
<g id="p3-co" class="co"><rect x="1718" y="2340" width="36" height="20"/><text x="1723" y="2350">OUT</text></g>
<g id="p3-co1" class="co"><rect x="1781" y="2287" width="101" height="20"/><text x="1786" y="2297">confirm budget</text></g>
<g id="p3-co2" class="co"><rect x="1781" y="2316" width="157" height="20"/><text x="1786" y="2326">file sharing improvement</text></g>
<g id="p3-co3" class="co"><rect x="1781" y="2346" width="132" height="37"/><text x="1786" y="2354">BIM execution plan /</text><text x="1786" y="2373">BIM requirements</text></g>
<g id="p3-co4" class="co"><rect x="1781" y="2392" width="176" height="20"/><text x="1786" y="2402">input to GC on sub selection</text></g>

<g id="p4-oi" class="oi"><rect x="2806" y="407" width="24" height="19"/><text x="2811" y="416">IN</text></g>
<g id="p4-oo" class="oo"><rect x="2806" y="435" width="36" height="20"/><text x="2811" y="445">OUT</text></g>
<g id="p4-ai" class="ai"><rect x="2806" y="742" width="24" height="20"/><text x="2811" y="752">IN</text></g>
<g id="p4-ai1" class="ai"><rect x="2856" y="467" width="127" height="19"/><text x="2861" y="476">C - Assembly Codes</text></g>
<g id="p4-ai2" class="ai"><rect x="2856" y="496" width="174" height="20"/><text x="2861" y="506">O - Interior Finish Definition</text></g>
<g id="p4-ai3" class="ai"><rect x="2856" y="524" width="118" height="20"/><text x="2861" y="534">Construction Type</text></g>
<g id="p4-ai4" class="ai"><rect x="2856" y="553" width="159" height="20"/><text x="2861" y="563">C - Cost Input (Assembly)</text></g>
<g id="p4-ai5" class="ai"><rect x="2856" y="583" width="126" height="20"/><text x="2861" y="593">S - Structural Frame</text></g>
<g id="p4-ai6" class="ai"><rect x="2856" y="611" width="162" height="20"/><text x="2861" y="621">Fixed Equipment Planning</text></g>
<g id="p4-ai7" class="ai"><rect x="2856" y="640" width="98" height="20"/><text x="2861" y="650">Family creation</text></g>
<g id="p4-ai8" class="ai"><rect x="2856" y="669" width="196" height="20"/><text x="2861" y="679">Plumbing Fire Protection Model</text></g>
<g id="p4-ai9" class="ai"><rect x="2856" y="698" width="175" height="20"/><text x="2861" y="708">Elev - Conveying Equipment</text></g>
<g id="p4-ai10" class="ai"><rect x="2856" y="771" width="196" height="20"/><text x="2861" y="780">M - Updated Mechanical Model</text></g>
<g id="p4-ai10a"><text x="3083" y="737">Major trunk ducts</text></g>
<g id="p4-ai10b"><text x="3083" y="766">Large Equipment</text></g>
<g id="p4-ai10c"><text x="3083" y="796">Louvers</text></g>
<g id="p4-ai10d"><text x="3083" y="825">Diffusers</text></g>
<g id="p4-ai11" class="ai"><rect x="2856" y="874" width="121" height="20"/><text x="2861" y="883">E - Electrical Model</text></g>
<g id="p4-ai11a"><text x="3008" y="854">Power</text></g>
<g id="p4-ai11b"><text x="3008" y="882">Lighting</text></g>
<g id="p4-ai11c"><text x="3008" y="911">Systems</text></g>
<g id="p4-ai12" class="ai"><rect x="2856" y="931" width="206" height="20"/><text x="2861" y="941">M/E - Preliminary Energy Analysis</text></g>
<g id="p4-ai13" class="ai"><rect x="2856" y="959" width="182" height="20"/><text x="2861" y="969">S - Updated Structural Model</text></g>
<g id="p4-ai14" class="ai"><rect x="2856" y="988" width="351" height="20"/><text x="2861" y="998">A - Sizes and Requirements of all elements to be modeled</text></g>
<g id="p4-ai15" class="ai"><rect x="2856" y="1017" width="309" height="20"/><text x="2861" y="1027">GC - GC/CM BIM Requirements and Uses of Model</text></g>
<g id="p4-ao" class="ao"><rect x="2806" y="1221" width="36" height="20"/><text x="2811" y="1231">OUT</text></g>
<g id="p4-ao1" class="ao"><rect x="2869" y="1046" width="188" height="20"/><text x="2874" y="1056">Lighting Studies (photometric)</text></g>
<g id="p4-ao2" class="ao"><rect x="2869" y="1075" width="130" height="20"/><text x="2874" y="1085">Earthwork (cut &amp; fill)</text></g>
<g id="p4-ao3" class="ao"><rect x="2869" y="1105" width="101" height="20"/><text x="2874" y="1115">Clash Detection</text></g>
<g id="p4-ao4" class="ao"><rect x="2869" y="1134" width="115" height="20"/><text x="2874" y="1144">Interior Elevations</text></g>
<g id="p4-ao5" class="ao"><rect x="2869" y="1162" width="156" height="20"/><text x="2874" y="1172">Visualization (Rendering)</text></g>
<g id="p4-ao6" class="ao"><rect x="2869" y="1192" width="76" height="20"/><text x="2874" y="1202">COBie Data</text></g>
<g id="p4-ao7" class="ao"><rect x="2869" y="1221" width="59" height="20"/><text x="2874" y="1231">Estimate</text></g>
<g id="p4-ao8" class="ao"><rect x="2869" y="1250" width="96" height="20"/><text x="2874" y="1260">Door Schedule</text></g>
<g id="p4-ao9" class="ao"><rect x="2869" y="1279" width="116" height="20"/><text x="2874" y="1289">Window Schedule</text></g>
<g id="p4-ao10" class="ao"><rect x="2869" y="1307" width="270" height="20"/><text x="2874" y="1317">A - Exterior/interior Wall Construction Types</text></g>
<g id="p4-ao11" class="ao"><rect x="2869" y="1336" width="342" height="20"/><text x="2874" y="1346">A/E - Preliminary Ceilings Modeled w/ Preliminary Lights</text></g>
<g id="p4-ao12" class="ao"><rect x="2869" y="1365" width="291" height="20"/><text x="2874" y="1375">A - Update BIM Execution Plan w/ CM/GC Input</text></g>
<g id="p4-ao13" class="ao"><rect x="2869" y="1394" width="246" height="20"/><text x="2874" y="1404">Major Space Architectural Lighting Input</text></g>
<g id="p4-mi" class="mi"><rect x="2806" y="1429" width="24" height="18"/><text x="2811" y="1437">IN</text></g>
<g id="p4-mo" class="mo"><rect x="2806" y="1590" width="36" height="19"/><text x="2811" y="1599">OUT</text></g>
<g id="p4-mo1" class="mo"><rect x="2869" y="1457" width="168" height="54"/><text x="2874" y="1466">•</text><text x="2925" y="1466">Start of Final</text><text x="2874" y="1483">Modeling of CD Content in</text><text x="2874" y="1502">Model</text></g>
<g id="p4-mo2" class="mo"><rect x="2869" y="1521" width="188" height="91"/><text x="2874" y="1532">a.</text><text x="2925" y="1532">Initial Terminal</text><text x="2874" y="1549">Selection &amp; Placement</text><text x="2874" y="1566">b.</text><text x="2925" y="1566">Main Supply Lines -</text><text x="2874" y="1584">Duct, Piping, Electrical Sources</text><text x="2874" y="1602">(Panels, Transformers., etc.)</text></g>
<g id="p4-mo3" class="mo"><rect x="2869" y="1623" width="180" height="20"/><text x="2874" y="1633">Technical Solution Selections</text></g>
<g id="p4-mo4" class="mo"><rect x="2869" y="1687" width="134" height="20"/><text x="2874" y="1696">Preliminary Modeling</text></g>
<g id="p4-mo5" class="mo"><rect x="3030" y="1652" width="211" height="90"/><text x="3034" y="1661">a.</text><text x="3086" y="1661">Initial Terminal Selection</text><text x="3034" y="1680">&amp; Placement</text><text x="3034" y="1696">b.</text><text x="3086" y="1696">Main Supply Lines - Duct,</text><text x="3034" y="1714">Piping, Electrical Sources (Panels,</text><text x="3034" y="1733">Transformers., etc.)</text></g>
<g id="p4-si" class="si"><rect x="2806" y="1798" width="24" height="20"/><text x="2811" y="1808">IN</text></g>
<g id="p4-si1" class="si"><rect x="2856" y="1755" width="108" height="19"/><text x="2861" y="1764">Foundation Type</text></g>
<g id="p4-si2" class="si"><rect x="2856" y="1783" width="232" height="20"/><text x="2861" y="1793">Are we providing Connection Design?</text></g>
<g id="p4-si3" class="si"><rect x="2856" y="1812" width="129" height="20"/><text x="2861" y="1822">Geotechnical Report</text></g>
<g id="p4-si4" class="si"><rect x="2856" y="1842" width="114" height="20"/><text x="2861" y="1852">Final Column Grid</text></g>
<g id="p4-so" class="so"><rect x="2806" y="1914" width="36" height="20"/><text x="2811" y="1924">OUT</text></g>
<g id="p4-so1" class="so"><rect x="2869" y="1871" width="138" height="20"/><text x="2874" y="1880">Floor to Floor Heights</text></g>
<g id="p4-so2" class="so"><rect x="2869" y="1899" width="174" height="20"/><text x="2874" y="1909">Preliminary Foundation Plan</text></g>
<g id="p4-so3" class="so"><rect x="2869" y="1928" width="186" height="20"/><text x="2874" y="1938">Preliminary Roof Framing Plan</text></g>
<g id="p4-so4" class="so"><rect x="2869" y="1957" width="147" height="20"/><text x="2874" y="1967">Typical Notes &amp; Details</text></g>
<g id="p4-gi" class="gi"><rect x="2806" y="2004" width="24" height="20"/><text x="2811" y="2014">IN</text></g>
<g id="p4-gi1" class="gi"><rect x="2856" y="1990" width="157" height="19"/><text x="2861" y="1999">MEP Layout Clarifications</text></g>
<g id="p4-gi2" class="gi"><rect x="2856" y="2019" width="121" height="20"/><text x="2861" y="2029">Early Specifications</text></g>
<g id="p4-go" class="go"><rect x="2806" y="2077" width="36" height="20"/><text x="2811" y="2087">OUT</text></g>
<g id="p4-go1" class="go"><rect x="2869" y="2048" width="186" height="20"/><text x="2874" y="2058">Basis of Estimate Clarifications</text></g>
<g id="p4-go2" class="go"><rect x="2869" y="2077" width="126" height="20"/><text x="2874" y="2087">Digital Take-off Info</text></g>
<g id="p4-go3" class="go"><rect x="2869" y="2106" width="196" height="20"/><text x="2874" y="2116">Construction Schedule - refined</text></g>
<g id="p4-ci" class="ci"><rect x="2806" y="2337" width="24" height="20"/><text x="2811" y="2347">IN</text></g>
<g id="p4-ci1" class="ci"><rect x="2856" y="2139" width="175" height="37"/><text x="2861" y="2147">Engineer review/approval of</text><text x="2861" y="2166">MEP subs 100% CDs</text></g>
<g id="p4-ci2" class="ci"><rect x="2856" y="2186" width="134" height="36"/><text x="2861" y="2194">Design &amp; Fabrication</text><text x="2861" y="2212">integrated softwares</text></g>
<g id="p4-ci3" class="ci"><rect x="2856" y="2233" width="192" height="36"/><text x="2861" y="2241">Architectural &amp; Structural shop</text><text x="2861" y="2259">drawings (fabricator)</text></g>
<g id="p4-ci4" class="ci"><rect x="2856" y="2280" width="170" height="36"/><text x="2861" y="2288">BIM Schedule integrated to</text><text x="2861" y="2307">Construction schedule</text></g>
<g id="p4-ci5" class="ci"><rect x="2856" y="2326" width="165" height="20"/><text x="2861" y="2336">Clearly defined deliverable</text></g>
<g id="p4-ci6" class="ci"><rect x="2856" y="2354" width="98" height="20"/><text x="2861" y="2364">BIM savvy subs</text></g>
<g id="p4-ci7" class="ci"><rect x="2856" y="2383" width="194" height="20"/><text x="2861" y="2393">BIM Coordination: Priority walls</text></g>
<g id="p4-ci8" class="ci"><rect x="2856" y="2413" width="182" height="37"/><text x="2861" y="2423">BIM Coordination: material &amp;</text><text x="2861" y="2440">equipment submittal</text></g>
<g id="p4-ci9" class="ci"><rect x="2856" y="2459" width="211" height="20"/><text x="2861" y="2469">BIM Coordination: furniture layout</text></g>
<g id="p4-ci10" class="ci"><rect x="2856" y="2490" width="186" height="37"/><text x="2861" y="2499">BIM Coordination: 3D</text><text x="2861" y="2517">coordination / clash detection</text></g>
<g id="p4-ci11" class="ci"><rect x="2856" y="2536" width="39" height="20"/><text x="2861" y="2546">RCPs</text></g>
<g id="p4-co" class="co"><rect x="2806" y="2626" width="36" height="20"/><text x="2811" y="2636">OUT</text></g>
<g id="p4-co1" class="co"><rect x="2869" y="2564" width="103" height="20"/><text x="2874" y="2574">sleeve drawings</text></g>
<g id="p4-co1a" class="co"><rect x="2999" y="2564" width="130" height="20"/><text x="3004" y="2574">approved submittals</text></g>
<g id="p4-co2" class="co"><rect x="2869" y="2593" width="121" height="20"/><text x="2874" y="2603">submittal drawings</text></g>
<g id="p4-co3" class="co"><rect x="2869" y="2623" width="169" height="56"/><text x="2874" y="2633">MEP subs create 100% CDs</text><text x="2874" y="2650">(not consultants)</text><text x="2874" y="2668">How to address liability?</text></g>
<g id="p4-co4" class="co"><rect x="2869" y="2688" width="130" height="20"/><text x="2874" y="2698">approved submittals</text></g>

<g id="p5-oi" class="oi"><rect x="3644" y="403" width="24" height="20"/><text x="3649" y="412">IN</text></g>
<g id="p5-oo" class="oo"><rect x="3644" y="431" width="36" height="20"/><text x="3649" y="441">OUT</text></g>
<g id="p5-ai" class="ai"><rect x="3644" y="521" width="24" height="20"/><text x="3649" y="531">IN</text></g>
<g id="p5-ai1" class="ai"><rect x="3694" y="463" width="130" height="19"/><text x="3699" y="472">C - Assembly Details</text></g>
<g id="p5-ai2" class="ai"><rect x="3694" y="491" width="182" height="20"/><text x="3699" y="501">S - Updated Structural Model</text></g>
<g id="p5-ai3" class="ai"><rect x="3694" y="520" width="196" height="20"/><text x="3699" y="530">M - Updated Mechanical Model</text></g>
<g id="p5-ai4" class="ai"><rect x="3694" y="550" width="181" height="20"/><text x="3699" y="559">P - Updated Plumbing Model</text></g>
<g id="p5-ai5" class="ai"><rect x="3694" y="579" width="176" height="20"/><text x="3699" y="588">E - Updated Electrical Model</text></g>
<g id="p5-ao" class="ao"><rect x="3644" y="724" width="36" height="20"/><text x="3649" y="734">OUT</text></g>
<g id="p5-ao1" class="ao"><rect x="3707" y="608" width="43" height="20"/><text x="3712" y="617">Specs</text></g>
<g id="p5-ao2" class="ao"><rect x="3707" y="637" width="209" height="20"/><text x="3712" y="646">Furniture (types, quantities, specs)</text></g>
<g id="p5-ao3" class="ao"><rect x="3707" y="665" width="114" height="20"/><text x="3712" y="675">System Schedules</text></g>
<g id="p5-ao4" class="ao"><rect x="3707" y="695" width="150" height="20"/><text x="3712" y="704">Life Safety Confirmation</text></g>
<g id="p5-ao5" class="ao"><rect x="3707" y="723" width="62" height="20"/><text x="3712" y="733">Keynotes</text></g>
<g id="p5-ao6" class="ao"><rect x="3707" y="753" width="59" height="20"/><text x="3712" y="763">Estimate</text></g>
<g id="p5-ao7" class="ao"><rect x="3707" y="782" width="57" height="20"/><text x="3712" y="791">Signage</text></g>
<g id="p5-ao8" class="ao"><rect x="3707" y="811" width="68" height="20"/><text x="3712" y="821">Unit Plans</text></g>
<g id="p5-ao9" class="ao"><rect x="3707" y="840" width="76" height="20"/><text x="3712" y="850">COBie Data</text></g>
<g id="p5-mi" class="mi"><rect x="3644" y="873" width="24" height="20"/><text x="3649" y="882">IN</text></g>
<g id="p5-mo" class="mo"><rect x="3644" y="924" width="36" height="20"/><text x="3649" y="934">OUT</text></g>
<g id="p5-mo1" class="mo"><rect x="3707" y="901" width="217" height="37"/><text x="3712" y="910">Elaborate / Flesh Out Specifications</text><text x="3712" y="928">&amp; Criteria for Commissioning</text></g>
<g id="p5-mo2" class="mo"><rect x="3707" y="947" width="212" height="20"/><text x="3712" y="957">Finalizing of CD Content Modeling</text></g>
<g id="p5-si" class="si"><rect x="3644" y="1047" width="24" height="20"/><text x="3649" y="1057">IN</text></g>
<g id="p5-si1" class="si"><rect x="3694" y="980" width="172" height="19"/><text x="3699" y="989">Roof Layout (Drains, slopes)</text></g>
<g id="p5-si2" class="si"><rect x="3694" y="1008" width="165" height="20"/><text x="3699" y="1018">Civil Grading &amp; Utility Plan</text></g>
<g id="p5-si3" class="si"><rect x="3694" y="1038" width="193" height="37"/><text x="3699" y="1047">MEP Cut Sheets (RTU locations,</text><text x="3699" y="1065">weights)</text></g>
<g id="p5-si4" class="si"><rect x="3694" y="1085" width="113" height="20"/><text x="3699" y="1095">MEP Penetrations</text></g>
<g id="p5-si5" class="si"><rect x="3694" y="1113" width="107" height="20"/><text x="3699" y="1123">Cladding Details</text></g>
<g id="p5-so" class="so"><rect x="3644" y="1257" width="36" height="20"/><text x="3649" y="1267">OUT</text></g>
<g id="p5-so1" class="so"><rect x="3707" y="1143" width="169" height="38"/><text x="3712" y="1152">Building Envelope Location</text><text x="3712" y="1170">(Dimensions)</text></g>
<g id="p5-so2" class="so"><rect x="3707" y="1189" width="67" height="20"/><text x="3712" y="1199">Slab Edge</text></g>
<g id="p5-so3" class="so"><rect x="3707" y="1218" width="122" height="20"/><text x="3712" y="1228">Final Framing Plans</text></g>
<g id="p5-so3a"><text x="3860" y="1228">Lateral System Defined/Annotated</text></g>
<g id="p5-so4" class="so"><rect x="3707" y="1249" width="141" height="37"/><text x="3712" y="1258">Final Foundation Sizes</text><text x="3712" y="1275">&amp; Reinforcing</text></g>
<g id="p5-so5" class="so"><rect x="3707" y="1296" width="167" height="37"/><text x="3712" y="1304">Fabricator/Engineer Model</text><text x="3712" y="1322">Exchange</text></g>
<g id="p5-so6" class="so"><rect x="3707" y="1342" width="163" height="20"/><text x="3712" y="1352">Final Details &amp; Annotation</text></g>
<g id="p5-so7" class="so"><rect x="3707" y="1371" width="121" height="20"/><text x="3712" y="1381">Material Quantities</text></g>
<g id="p5-gi" class="gi"><rect x="3644" y="1436" width="24" height="20"/><text x="3649" y="1446">IN</text></g>
<g id="p5-gi1" class="gi"><rect x="3694" y="1404" width="129" height="37"/><text x="3699" y="1412">Spacial and System</text><text x="3699" y="1430">Design Clarifications</text></g>
<g id="p5-gi2" class="gi"><rect x="3694" y="1451" width="142" height="37"/><text x="3699" y="1460">Material and Product</text><text x="3699" y="1478">Selection Clarifications</text></g>
<g id="p5-go" class="go"><rect x="3644" y="1520" width="36" height="20"/><text x="3649" y="1530">OUT</text></g>
<g id="p5-go1" class="go"><rect x="3707" y="1497" width="143" height="38"/><text x="3712" y="1507">Construction Schedule</text><text x="3712" y="1526">Clarified</text></g>
<g id="p5-go2" class="go"><rect x="3707" y="1545" width="107" height="20"/><text x="3712" y="1555">Basis of Estimate</text></g>
<g id="p5-ci" class="ci"><rect x="3644" y="1578" width="24" height="19"/><text x="3649" y="1587">IN</text></g>
<g id="p5-co" class="co"><rect x="3644" y="1606" width="36" height="19"/><text x="3649" y="1615">OUT</text></g>

<g id="p6-oi" class="oi"><rect x="4414" y="391" width="23" height="18"/><text x="4419" y="400">IN</text></g>
<g id="p6-oo" class="oo"><rect x="4414" y="419" width="36" height="19"/><text x="4419" y="428">OUT</text></g>
<g id="p6-ai" class="ai"><rect x="4414" y="509" width="23" height="19"/><text x="4419" y="518">IN</text></g>
<g id="p6-ai1" class="ai"><rect x="4464" y="451" width="83" height="19"/><text x="4469" y="460">O - Changes</text></g>
<g id="p6-ai2" class="ai"><rect x="4464" y="479" width="119" height="20"/><text x="4469" y="488">C - Shop Drawings</text></g>
<g id="p6-ai3" class="ai"><rect x="4464" y="508" width="104" height="20"/><text x="4469" y="518">C - 4D Schedule</text></g>
<g id="p6-ai4" class="ai"><rect x="4464" y="537" width="102" height="20"/><text x="4469" y="546">Exception Items</text></g>
<g id="p6-ai5" class="ai"><rect x="4464" y="566" width="146" height="20"/><text x="4469" y="576">C - Close Out Materials</text></g>
<g id="p6-ao" class="ao"><rect x="4414" y="595" width="36" height="20"/><text x="4419" y="605">OUT</text></g>
<g id="p6-mi" class="mi"><rect x="4414" y="629" width="23" height="18"/><text x="4419" y="637">IN</text></g>
<g id="p6-mo" class="mo"><rect x="4414" y="657" width="36" height="20"/><text x="4419" y="666">OUT</text></g>
<g id="p6-si" class="si"><rect x="4414" y="703" width="23" height="18"/><text x="4419" y="712">IN</text></g>
<g id="p6-si1" class="si"><rect x="4464" y="689" width="98" height="19"/><text x="4469" y="697">Shop Drawings</text></g>
<g id="p6-si2" class="si"><rect x="4464" y="717" width="31" height="20"/><text x="4469" y="727">RFI</text></g>
<g id="p6-so" class="so"><rect x="4414" y="776" width="36" height="18"/><text x="4419" y="785">OUT</text></g>
<g id="p6-so1" class="so"><rect x="4477" y="745" width="142" height="20"/><text x="4482" y="755">Embed Shop Drawings</text></g>
<g id="p6-so2" class="so"><rect x="4477" y="774" width="204" height="20"/><text x="4482" y="784">Panel Reinforcing Shop Drawings</text></g>
<g id="p6-so3" class="so"><rect x="4477" y="804" width="109" height="20"/><text x="4482" y="813">Site Visit Reports</text></g>
<g id="p6-gi" class="gi"><rect x="4414" y="880" width="23" height="18"/><text x="4419" y="889">IN</text></g>
<g id="p6-gi1" class="gi"><rect x="4464" y="836" width="163" height="20"/><text x="4469" y="846">Trade Models/Documents</text></g>
<g id="p6-gi2" class="gi"><rect x="4464" y="865" width="146" height="20"/><text x="4469" y="875">Product Submittal Data</text></g>
<g id="p6-gi3" class="gi"><rect x="4464" y="894" width="35" height="20"/><text x="4469" y="904">ASIs</text></g>
<g id="p6-gi4" class="gi"><rect x="4464" y="924" width="41" height="20"/><text x="4469" y="933">CCDs</text></g>
<g id="p6-go" class="go"><rect x="4414" y="982" width="36" height="19"/><text x="4419" y="991">OUT</text></g>
<g id="p6-go1" class="go"><rect x="4477" y="953" width="214" height="20"/><text x="4482" y="963">Coordinated Submittal Documents</text></g>
<g id="p6-go2" class="go"><rect x="4477" y="981" width="104" height="20"/><text x="4482" y="991">RFIs/CPRs/CORs</text></g>
<g id="p6-go3" class="go"><rect x="4477" y="1010" width="98" height="20"/><text x="4482" y="1019">Shop Drawings</text></g>
<g id="p6-ci" class="ci"><rect x="4414" y="1075" width="23" height="19"/><text x="4419" y="1084">IN</text></g>
<g id="p6-ci1" class="ci"><rect x="4464" y="1044" width="193" height="35"/><text x="4469" y="1053">BIM Coordination: construction</text><text x="4469" y="1070">sequence/schedule &amp; duration</text></g>
<g id="p6-ci2" class="ci"><rect x="4464" y="1090" width="200" height="35"/><text x="4469" y="1099">BIM Coordination: streamlined</text><text x="4469" y="1116">information exchange (RFIs, etc.)</text></g>
<g id="p6-co" class="co"><rect x="4414" y="1180" width="36" height="18"/><text x="4419" y="1189">OUT</text></g>
<g id="p6-co1" class="co"><rect x="4477" y="1136" width="187" height="20"/><text x="4482" y="1146">field verification of installation</text></g>
<g id="p6-co2" class="co"><rect x="4477" y="1165" width="163" height="20"/><text x="4482" y="1174">start-up &amp; commissioning</text></g>
<g id="p6-co3" class="co"><rect x="4477" y="1194" width="210" height="20"/><text x="4482" y="1204">BIM(model) / as-builts / close out</text></g>
<g id="p6-co4" class="co"><rect x="4477" y="1223" width="125" height="20"/><text x="4482" y="1233">MEP shop drawings</text></g>

<g id="p7-oi" class="oi"><rect x="5065" y="391" width="25" height="18"/><text x="5070" y="400">IN</text></g>
<g id="p7-oo" class="oo"><rect x="5065" y="419" width="37" height="19"/><text x="5070" y="428">OUT</text></g>
<g id="p7-ai" class="ai"><rect x="5065" y="451" width="25" height="19"/><text x="5070" y="460">IN</text></g>
<g id="p7-ao" class="ao"><rect x="5065" y="480" width="37" height="19"/><text x="5070" y="489">OUT</text></g>
<g id="p7-mi" class="mi"><rect x="5065" y="512" width="25" height="19"/><text x="5070" y="521">IN</text></g>
<g id="p7-mo" class="mo"><rect x="5065" y="541" width="37" height="19"/><text x="5070" y="550">OUT</text></g>
<g id="p7-si" class="si"><rect x="5065" y="573" width="25" height="19"/><text x="5070" y="582">IN</text></g>
<g id="p7-so" class="so"><rect x="5065" y="602" width="37" height="19"/><text x="5070" y="611">OUT</text></g>
<g id="p7-gi" class="gi"><rect x="5065" y="672" width="25" height="19"/><text x="5070" y="681">IN</text></g>
<g id="p7-gi1" class="gi"><rect x="5116" y="633" width="130" height="19"/><text x="5121" y="642">Owner requirements</text></g>
<g id="p7-gi2" class="gi"><rect x="5116" y="662" width="155" height="20"/><text x="5121" y="672">FM Software information</text></g>
<g id="p7-gi3" class="gi"><rect x="5116" y="691" width="169" height="38"/><text x="5121" y="700">Data NIC but appliciable to</text><text x="5121" y="718">building/model</text></g>
<g id="p7-go" class="go"><rect x="5065" y="777" width="37" height="19"/><text x="5070" y="786">OUT</text></g>
<g id="p7-go1" class="go"><rect x="5129" y="738" width="227" height="20"/><text x="5134" y="748">Coordinated and consolidated model</text></g>
<g id="p7-go2" class="go"><rect x="5129" y="768" width="169" height="20"/><text x="5134" y="777">O &amp; M Info and Warranties</text></g>
<g id="p7-go3" class="go"><rect x="5129" y="796" width="206" height="38"/><text x="5134" y="805">Certifications and Commissioning</text><text x="5134" y="824">Documentation</text></g>
<g id="p7-ci" class="ci"><rect x="5065" y="847" width="25" height="19"/><text x="5070" y="856">IN</text></g>
<g id="p7-co" class="co"><rect x="5065" y="936" width="37" height="20"/><text x="5070" y="946">OUT</text></g>
<g id="p7-co1" class="co"><rect x="5129" y="875" width="147" height="20"/><text x="5134" y="885">FIM/FM model creation</text></g>
<g id="p7-co2" class="co"><rect x="5129" y="903" width="125" height="20"/><text x="5134" y="913">controls integration</text></g>
<g id="p7-co3" class="co"><rect x="5129" y="933" width="167" height="38"/><text x="5134" y="942">equipment maintenance &amp;</text><text x="5134" y="960">service history</text></g>
<g id="p7-co4" class="co"><rect x="5129" y="981" width="186" height="37"/><text x="5134" y="989">FIM prompts for preventative</text><text x="5134" y="1007">maintenance &amp; annual testing</text></g>
</g>
</g>
</svg>
